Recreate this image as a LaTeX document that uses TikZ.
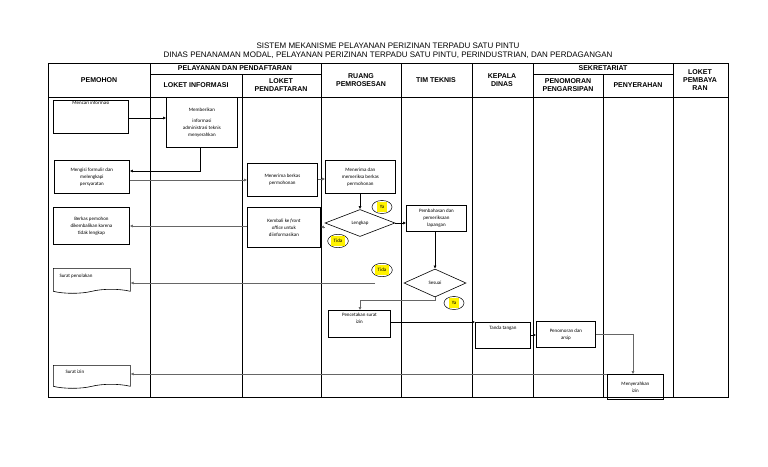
\documentclass[tikz,border=0pt]{standalone}
\usepackage{fontspec}
\setmainfont{Liberation Sans}
\newfontfamily\bodyf{Carlito}
\usetikzlibrary{shapes.geometric,shapes.symbols,arrows.meta}
\tikzset{
 hd/.style={font=\fontsize{7}{8}\selectfont\bfseries, align=center},
 bx/.style={draw, line width=0.8pt, font=\bodyf\fontsize{5}{7}\selectfont, align=center, inner sep=1pt},
 dm/.style={draw, diamond, aspect=2.6, line width=0.6pt, font=\bodyf\fontsize{5}{6}\selectfont, inner sep=0pt},
 el/.style={draw, ellipse, line width=0.5pt, minimum width=20pt, minimum height=12pt, inner sep=0pt, font=\bodyf\fontsize{5}{6}\selectfont},
 ar/.style={-{Latex[length=3pt,width=3pt]}, line width=0.5pt},
 gl/.style={ar, draw=black!60},
}
\begin{document}
\begin{tikzpicture}[x=1pt,y=-1pt]
\useasboundingbox (0,0) rectangle (768,466);
\node[font=\fontsize{8}{9}\selectfont] at (388,46) {SISTEM MEKANISME PELAYANAN PERIZINAN TERPADU SATU PINTU};
\node[font=\fontsize{8}{9}\selectfont] at (388,55) {DINAS PENANAMAN MODAL, PELAYANAN PERIZINAN TERPADU SATU PINTU, PERINDUSTRIAN, DAN PERDAGANGAN};
% table
\draw[line width=0.8pt] (48,63) rectangle (728,397);
\draw[line width=0.8pt] (48,97) -- (728,97);
\foreach \x in {150,242,321,401,472,533,603,673} \draw[line width=0.8pt] (\x,63) -- (\x,397);
\draw[line width=0.8pt] (150,74) -- (321,74);
\draw[line width=0.8pt] (533,74) -- (673,74);
\fill[white] (151,63.5) rectangle (320.5,73.5);
\draw[line width=0.8pt] (150,63)--(150,97) (321,63)--(321,97);
\fill[white] (533.5,63.5) rectangle (672.5,73.5);
\node[hd] at (99,80) {PEMOHON};
\node[hd] at (235,68) {PELAYANAN DAN PENDAFTARAN};
\node[hd] at (196,85) {LOKET INFORMASI};
\node[hd] at (281,85) {LOKET\\PENDAFTARAN};
\node[hd] at (361,80) {RUANG\\PEMROSESAN};
\node[hd] at (436,80) {TIM TEKNIS};
\node[hd] at (502,80) {KEPALA\\DINAS};
\node[hd] at (603,68) {SEKRETARIAT};
\node[hd] at (568,85) {PENOMORAN\\PENGARSIPAN};
\node[hd] at (638,85) {PENYERAHAN};
\node[hd] at (700,80) {LOKET\\PEMBAYA\\RAN};
% boxes
\node[bx, minimum width=75pt, minimum height=33pt, anchor=north west] (a1) at (53,100) {};
\node[bx, anchor=north, draw=none] at (a1.north) {Mencari informasi};
\node[bx, minimum width=71pt, minimum height=50pt, anchor=north west] (a2) at (166,97) {Memberikan\\[4pt]informasi\\administrasi teknis\\menyerahkan};
\node[bx, minimum width=75pt, minimum height=33pt, anchor=north west] (a3) at (54,160) {Mengisi formulir dan\\melengkapi\\persyaratan};
\node[bx, minimum width=70pt, minimum height=33pt, anchor=north west] (a4) at (247,163) {Menerima berkas\\permohonan};
\node[bx, minimum width=70pt, minimum height=33pt, anchor=north west] (a5) at (325,160) {Menerima dan\\memeriksa berkas\\permohonan};
\node[bx, minimum width=76pt, minimum height=37pt, anchor=north west] (a6) at (53,207) {Berkas pemohon\\dikembalikan karena\\tidak lengkap};
\node[bx, minimum width=73pt, minimum height=40pt, anchor=north west] (a7) at (247,207) {Kembali ke \emph{front}\\\emph{office} untuk\\diinformasikan};
\node[dm, minimum width=70pt, minimum height=27pt] (d1) at (360,223) {Lengkap};
\node[el] (y1) at (382,207) {\colorbox{yellow}{Ya}};
\node[el] (t1) at (338,241) {\colorbox{yellow}{Tida}};
\node[bx, minimum width=60pt, minimum height=26pt, anchor=north west] (a8) at (406,205) {Pembahasan dan\\pemeriksaan\\lapangan};
\node[dm, minimum width=62pt, minimum height=28pt] (d2) at (435,283) {Sesuai};
\node[el] (t2) at (382,270) {\colorbox{yellow}{Tida}};
\node[el] (y2) at (454,303) {\colorbox{yellow}{Ya}};
\node[draw, tape, tape bend top=none, tape bend height=4pt, line width=0.6pt, minimum width=77pt, minimum height=25pt, anchor=north west, inner sep=0pt] (p1) at (53,268) {};
\node[font=\bodyf\fontsize{5}{6}\selectfont, anchor=north west] at (56,270) {Surat penolakan};
\node[draw, tape, tape bend top=none, tape bend height=4pt, line width=0.6pt, minimum width=77pt, minimum height=23pt, anchor=north west, inner sep=0pt] (p2) at (53,365) {};
\node[font=\bodyf\fontsize{5}{6}\selectfont, anchor=north west] at (62,367) {Surat izin};
\node[bx, minimum width=62pt, minimum height=27pt, anchor=north west] (a9) at (328,310) {Pencetakan surat\\izin\\[5pt]};
\node[bx, minimum width=55pt, minimum height=26pt, anchor=north west] (a10) at (475,322) {Tanda tangan\\[8pt]};
\node[bx, minimum width=59pt, minimum height=26pt, anchor=north west] (a11) at (536,321) {Penomoran dan\\arsip};
\node[bx, minimum width=56pt, minimum height=25pt, anchor=north west] (a12) at (607,374) {Menyerahkan\\izin};
% arrows
\draw[ar] (a1.east |- 0,118) -- (a2.west |- 0,118);
\draw[ar] (200,147) |- (a3.east |- 0,171);
\draw[gl] (a3.east |- 0,180) -- (a4.west |- 0,180);
\draw[gl] (a4.east |- 0,179) -- (a5.west |- 0,179);
\draw[ar] (a5.south -| d1.north) -- (d1.north);
\draw[ar] (d1.east) -- (a8.west |- d1.east);
\draw[gl] (d1.west |- 0,227) -- (a7.east |- 0,227);
\draw[gl] (a7.west |- 0,226) -- (a6.east |- 0,226);
\draw[ar] (a8.south -| d2.north) -- (d2.north);
\draw[gl] (375,283) -- (p1.east |- 0,283);
\draw[gl] (d2.south) -- (435,300) -- (360,300) -- (a9.north -| 360,0);
\draw[ar] (a9.east |- 0,322) -- (a10.north west);
\draw[ar] (a10.east |- 0,335) -- (a11.west |- 0,335);
\draw[gl] (a11.east |- 0,334) -| (a12.north -| 633,0);
\draw[gl] (a12.north west) -- (p2.east |- 0,374);
\end{tikzpicture}
\end{document}
